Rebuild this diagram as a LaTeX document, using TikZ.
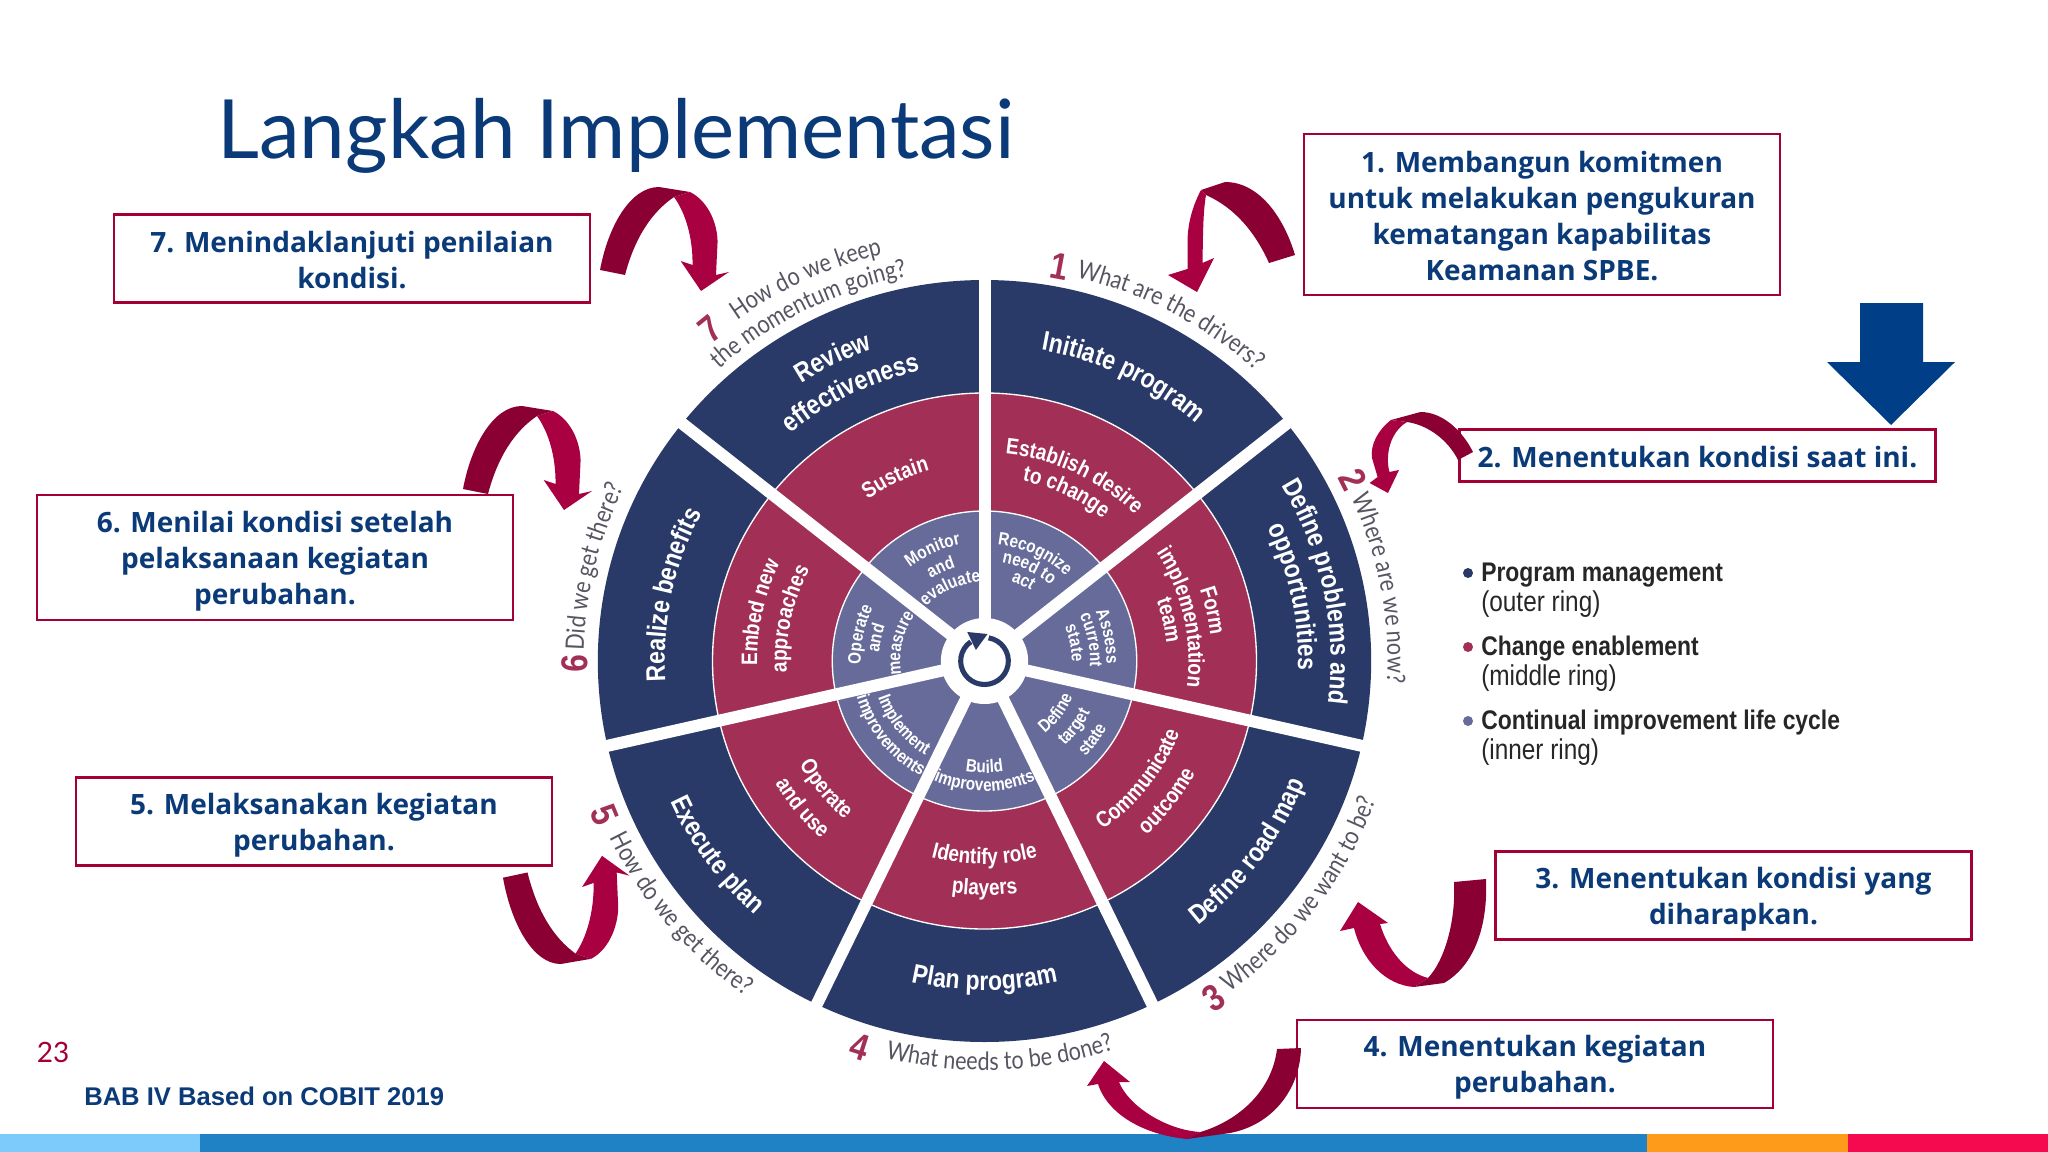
\documentclass[tikz,border=0pt]{standalone}
\usepackage{fontspec}
\usetikzlibrary{decorations.text}
\newfontfamily\wheelfont[FakeStretch=0.85]{Liberation Sans}
\newfontfamily\questfont[FakeStretch=0.85]{Lato}
\newfontfamily\boxfont{Open Sans}
\newfontfamily\titlefont{Lato}
\setmainfont{Liberation Sans}
\definecolor{ringnavy}{RGB}{41,58,104}
\definecolor{ringred}{RGB}{162,48,86}
\definecolor{ringblue}{RGB}{103,107,153}
\definecolor{boxred}{RGB}{165,0,52}
\definecolor{boxblue}{RGB}{11,58,120}
\definecolor{questgray}{RGB}{85,86,98}
\definecolor{swooshred}{RGB}{168,0,64}
\definecolor{swooshdeep}{RGB}{138,0,51}
\newcommand{\outerfont}{\wheelfont\bfseries\fontsize{20.3}{22}\selectfont}
\newcommand{\midfont}{\wheelfont\bfseries\fontsize{16.8}{18}\selectfont}
\newcommand{\innerfont}{\wheelfont\bfseries\fontsize{13.5}{15}\selectfont}
\newcommand{\questsize}{\questfont\fontsize{19}{21}\selectfont}
% text on an arc, clockwise or counter clockwise round the wheel
\newcommand{\cwlabel}[5]{\path[decorate,decoration={text along path,text align=center,text color=#1,text={|#2|#5}}] ({#3+65}:#4) arc ({#3+65}:{#3-65}:#4);}
\newcommand{\ccwlabel}[5]{\path[decorate,decoration={text along path,text align=center,text color=#1,text={|#2|#5}}] ({#3-65}:#4) arc ({#3-65}:{#3+65}:#4);}
% a taller first line sets the text of a box a little lower
\newcommand{\lowfirst}[1]{\rule{0pt}{#1}}
\tikzset{
  stepbox/.style={draw=boxred,line width=1.8pt,minimum width=357pt,inner sep=0pt,align=center,text=boxblue,font=\boxfont\bfseries\fontsize{21}{27}\selectfont},
  qnum/.style={text=ringred,font=\wheelfont\bfseries\fontsize{28}{30}\selectfont,inner sep=0pt},
  legtext/.style={anchor=west,inner sep=0pt,text=black!85,font=\wheelfont\fontsize{21.5}{23}\selectfont},
  legbold/.style={legtext,font=\wheelfont\bfseries\fontsize{20.2}{22}\selectfont},
  swoosh/.pic={
    \fill[swooshdeep] (0,83) .. controls (8,40) and (30,0) .. (59,0) -- (90,5) -- (74,10) .. controls (52,25) and (35,50) .. (25,88) -- cycle;
    \fill[swooshred] (90,5) .. controls (110,15) and (118,40) .. (117.5,56) -- (116,88) -- (129,85) -- (101,104) -- (80.7,74) -- (92.5,78) .. controls (93,50) and (85,25) .. (74,10) -- cycle;
  }
}
\begin{document}
\begin{tikzpicture}[x=0.75pt,y=-0.75pt]
\useasboundingbox (0,0) rectangle (2048,1152);

% bottom bar
\fill[fill={rgb,255:red,124;green,203;blue,251}] (0,1134) rectangle (200,1152);
\fill[fill={rgb,255:red,31;green,130;blue,196}] (200,1134) rectangle (1647,1152);
\fill[fill={rgb,255:red,255;green,155;blue,27}] (1647,1134) rectangle (1848,1152);
\fill[fill={rgb,255:red,245;green,9;blue,79}] (1848,1134) rectangle (2048,1152);

% title and footer
\node[anchor=base west,inner sep=0pt,text=boxblue,font=\titlefont\fontsize{61.3}{62}\selectfont] (title) at (217,159) {Langkah Implementasi};
\node[inner sep=0pt,text=boxred,font=\titlefont\fontsize{21}{22}\selectfont] (pagenum) at (53,1052) {23};
\node[anchor=base west,inner sep=0pt,text=boxblue,font=\bfseries\fontsize{19.2}{20}\selectfont] (footer) at (84,1105) {BAB IV Based on COBIT 2019};

% the wheel
\begin{scope}[shift={(984.5,661)},x=0.7612pt,y=0.75pt]
\fill[ringnavy] (0,0) circle (381);
\draw[white,line width=1pt,fill=ringred] (0,0) circle (268);
\draw[white,line width=1pt,fill=ringblue] (0,0) circle (150);
\foreach \spoke in {90,38.57,-12.86,-64.29,-115.71,-167.14,141.43}
  \draw[white,line width=9pt] (0,0) -- (\spoke:395);
\fill[white] (0,0) circle (43);
% centre icon
\draw[ringnavy,line width=3.8pt] (80:23.5) arc (80:-235:23.5);
\fill[ringnavy] (-17,29) -- (3,27) -- (-8.5,11) -- cycle;

% outer ring
\cwlabel{white}{\outerfont}{64}{316}{Initiate program}
\cwlabel{white}{\outerfont}{11.8}{341}{Define problems and}
\cwlabel{white}{\outerfont}{11.8}{309}{opportunities}
\ccwlabel{white}{\outerfont}{-36}{338}{Define road map}
\ccwlabel{white}{\outerfont}{-90}{329}{Plan program}
\ccwlabel{white}{\outerfont}{216}{340}{Execute plan}
\cwlabel{white}{\outerfont}{168}{315}{Realize benefits}
\cwlabel{white}{\outerfont}{116.5}{331}{Review}
\cwlabel{white}{\outerfont}{116.5}{297}{effectiveness}

% middle ring
\cwlabel{white}{\midfont}{64.2}{208}{Establish desire}
\cwlabel{white}{\midfont}{64.2}{184}{to change}
\cwlabel{white}{\midfont}{12.5}{224}{Form}
\cwlabel{white}{\midfont}{12.5}{201}{implementation}
\cwlabel{white}{\midfont}{12.5}{180}{team}
\ccwlabel{white}{\midfont}{-37.6}{205}{Communicate}
\ccwlabel{white}{\midfont}{-37.6}{236}{outcome}
\ccwlabel{white}{\midfont}{-90}{203}{Identify role}
\ccwlabel{white}{\midfont}{-90}{234}{players}
\ccwlabel{white}{\midfont}{219}{210}{Operate}
\ccwlabel{white}{\midfont}{219}{240}{and use}
\cwlabel{white}{\midfont}{167.8}{224}{Embed new}
\cwlabel{white}{\midfont}{167.8}{195}{approaches}
\cwlabel{white}{\midfont}{115.9}{198}{Sustain}

% inner ring
\cwlabel{white}{\innerfont}{64.9}{117}{Recognize}
\cwlabel{white}{\innerfont}{64.5}{100}{need to}
\cwlabel{white}{\innerfont}{64.2}{84}{act}
\cwlabel{white}{\innerfont}{11.3}{120}{Assess}
\cwlabel{white}{\innerfont}{11.3}{104}{current}
\cwlabel{white}{\innerfont}{11.3}{86}{state}
\ccwlabel{white}{\innerfont}{-36.3}{94}{Define}
\ccwlabel{white}{\innerfont}{-36.3}{116}{target}
\ccwlabel{white}{\innerfont}{-36.3}{138}{state}
\ccwlabel{white}{\innerfont}{-90}{112}{Build}
\ccwlabel{white}{\innerfont}{-90}{130}{improvements}
\ccwlabel{white}{\innerfont}{218.4}{111}{Implement}
\ccwlabel{white}{\innerfont}{218.4}{131}{improvements}
\cwlabel{white}{\innerfont}{168}{122}{Operate}
\cwlabel{white}{\innerfont}{168}{104}{and}
\cwlabel{white}{\innerfont}{168}{83}{measure}
\cwlabel{white}{\innerfont}{115}{119}{Monitor}
\cwlabel{white}{\innerfont}{115}{98}{and}
\cwlabel{white}{\innerfont}{115}{79}{evaluate}

% questions round the rim
\cwlabel{questgray}{\questsize}{61.8}{394}{What are the drivers?}
\cwlabel{questgray}{\questsize}{10.5}{397}{Where are we now?}
\ccwlabel{questgray}{\questsize}{-36.6}{410}{Where do we want to be?}
\ccwlabel{questgray}{\questsize}{-87.8}{409}{What needs to be done?}
\ccwlabel{questgray}{\questsize}{219.9}{409}{How do we get there?}
\cwlabel{questgray}{\questsize}{166.4}{395}{Did we get there?}
\cwlabel{questgray}{\questsize}{115}{419}{How do we keep}
\cwlabel{questgray}{\questsize}{116.8}{392}{the momentum going?}
\node[qnum,rotate=-10.6] (numone) at (79.4:401) {1};
\node[qnum,rotate=-63.4] (numtwo) at (26.6:406) {2};
\node[qnum,rotate=33.8] (numthree) at (-56.2:406) {3};
\node[qnum,rotate=-17.6] (numfour) at (-107.6:405) {4};
\node[qnum,rotate=-67.6] (numfive) at (202.4:405) {5};
\node[qnum,rotate=89] (numsix) at (180.4:404) {6};
\node[qnum,rotate=39] (numseven) at (129.1:428) {7};
\end{scope}

% legend
\fill[ringnavy] (1468,573) circle (5);
\fill[ringred] (1468,647) circle (5);
\fill[ringblue] (1468,721) circle (5);
\node[legbold] (legone) at (1481,575) {Program management};
\node[legtext] (legonesub) at (1481,604) {(outer ring)};
\node[legbold] (legtwo) at (1481,649) {Change enablement};
\node[legtext] (legtwosub) at (1481,678) {(middle ring)};
\node[legbold] (legthree) at (1481,723) {Continual improvement life cycle};
\node[legtext] (legthreesub) at (1481,752) {(inner ring)};

% step boxes
\node[stepbox,minimum height=120.75pt] (stepone) at (1542,214.5) {\lowfirst{18.5pt}1. Membangun komitmen\\untuk melakukan pengukuran\\kematangan kapabilitas\\Keamanan SPBE.};
\node[stepbox,minimum height=39pt] (steptwo) at (1697.5,455.5) {\lowfirst{18.5pt}2. Menentukan kondisi saat ini.};
\node[stepbox,minimum height=66pt] (stepthree) at (1733.5,895.5) {\lowfirst{21.5pt}3. Menentukan kondisi yang\\diharapkan.};
\node[stepbox,minimum height=66pt] (stepfour) at (1535,1064) {\lowfirst{21.5pt}4. Menentukan kegiatan\\perubahan.};
\node[stepbox,minimum height=66pt] (stepfive) at (314,821.5) {\lowfirst{21.5pt}5. Melaksanakan kegiatan\\perubahan.};
\node[stepbox,minimum height=94pt] (stepsix) at (275,557.5) {\lowfirst{21.5pt}6. Menilai kondisi setelah\\pelaksanaan kegiatan\\perubahan.};
\node[stepbox,minimum height=66pt] (stepseven) at (352,258.5) {\lowfirst{18.5pt}7. Menindaklanjuti penilaian\\kondisi.};

% big arrow
\fill[fill={rgb,255:red,0;green,63;blue,135}] (1860,303) -- (1923,303) -- (1923,362) -- (1955,362) -- (1891,425) -- (1827,362) -- (1860,362) -- cycle;

% curved arrows
\pic at (600,187) {swoosh};
\pic at (463,406) {swoosh};
\pic[xscale=0.98,yscale=-1.04] at (503,964) {swoosh};
% arrow one
\fill[swooshdeep] (1295,255) .. controls (1283,215) and (1258,182) .. (1225,182) -- (1201,190) -- (1206,195) .. controls (1235,208) and (1255,232) .. (1269,263) -- cycle;
\fill[swooshred] (1201,190) .. controls (1193,205) and (1188,222) .. (1187.5,240) -- (1187.5,269) -- (1168,275) -- (1197,292) -- (1214,258) -- (1202.5,263) .. controls (1203,235) and (1203,212) .. (1206,195) -- cycle;
% arrow two
\fill[swooshdeep] (1473,452) .. controls (1462,430) and (1442,412) .. (1420.5,412) -- (1391,420) -- (1407,422) .. controls (1428,425) and (1448,440) .. (1458,460) -- cycle;
\fill[swooshred] (1391,420) .. controls (1378,430) and (1370,445) .. (1372,458) -- (1377.6,477) -- (1369.6,483) -- (1388,493) -- (1399,470) -- (1389.4,472) .. controls (1385,455) and (1390,432) .. (1407,422) -- cycle;
% arrow three
\fill[swooshdeep] (1486,879) .. controls (1488,925) and (1475,965) .. (1444,983) -- (1414,987) -- (1428,978) .. controls (1445,960) and (1456,920) .. (1454,882) -- cycle;
\fill[swooshred] (1414,987) .. controls (1385,985) and (1362,960) .. (1354,928) -- (1340,931) -- (1358,902) -- (1388,923) -- (1380,924) .. controls (1388,950) and (1405,972) .. (1428,978) -- cycle;
% arrow four
\fill[swooshdeep] (1301,1048) .. controls (1300,1090) and (1272,1125) .. (1230,1133) -- (1187,1139) -- (1200.5,1132) .. controls (1240,1120) and (1272,1090) .. (1277,1049) -- cycle;
\fill[swooshred] (1187,1139) .. controls (1145,1135) and (1108,1115) .. (1098,1084) -- (1087,1086) -- (1104,1061) -- (1130,1082) -- (1119,1082) .. controls (1128,1105) and (1165,1130) .. (1200.5,1132) -- cycle;
\end{tikzpicture}
\end{document}
